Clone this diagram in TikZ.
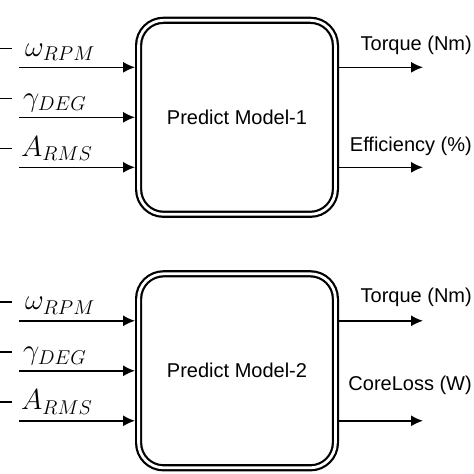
\RequirePackage{fix-cm}
\documentclass[tikz,border=0pt]{standalone}
\usepackage{fontspec}
\setmainfont{Liberation Sans}
\usepackage{tikz}
\usetikzlibrary{arrows.meta,positioning,calc}
\DeclareMathSizes{29}{29}{20}{14}

\begin{document}
\begin{tikzpicture}[x=1pt,y=-1pt,>={Latex[length=12pt,width=11pt]}]
\tikzset{model/.style={draw,double,line width=2.2pt,double distance=2.8pt,rounded corners=25pt,outer sep=3.6pt,minimum width=196.8pt,minimum height=194pt,font=\fontsize{20}{24}\selectfont},
  sig/.style={->,line width=1.4pt},
  inlab/.style={anchor=base west,inner sep=0pt,font=\fontsize{29}{35}\selectfont},
  outlab/.style={anchor=base east,inner sep=0pt,font=\fontsize{20}{24}\selectfont}}
\useasboundingbox (0,0) rectangle (474,474);
\node[model] (m1) at (237,117.3) {Predict Model-1};
\node[model] (m2) at (237,370.8) {Predict Model-2};
% inputs, same for both models
\foreach \m in {m1,m2}{
  \coordinate (\m-i1) at ($(\m.west)+(-116,-50)$);
  \coordinate (\m-i2) at ($(\m.west)+(-116,0)$);
  \coordinate (\m-i3) at ($(\m.west)+(-116,50)$);
  \draw[sig] (\m-i1) -- (\m-i1 -| \m.west);
  \draw[sig] (\m-i2) -- (\m-i2 -| \m.west);
  \draw[sig] (\m-i3) -- (\m-i3 -| \m.west);
  \node[inlab] (\m-w) at ($(\m-i1)+(6,-11)$) {$\omega_{RPM}$};
  \node[inlab] (\m-g) at ($(\m-i2)+(4,-11)$) {$\gamma_{DEG}$};
  \node[inlab] (\m-a) at ($(\m-i3)+(2,-11)$) {$A_{RMS}$};
  \draw[line width=1.4pt] ($(\m-i1)+(-19,-19)$) -- ++(12,0);
  \draw[line width=1.4pt] ($(\m-i2)+(-19,-19)$) -- ++(12,0);
  \draw[line width=1.4pt] ($(\m-i3)+(-19,-19)$) -- ++(12,0);
  % outputs
  \coordinate (\m-o1) at ($(\m.east)+(84,-50)$);
  \coordinate (\m-o2) at ($(\m.east)+(84,50)$);
  \draw[sig] (\m.east |- \m-o1) -- (\m-o1);
  \draw[sig] (\m.east |- \m-o2) -- (\m-o2);
}
\node[outlab] (tq1) at ($(m1-o1)+(49,-17)$) {Torque (Nm)};
\node[outlab] (eff) at ($(m1-o2)+(49,-16)$) {Efficiency (\%)};
\node[outlab] (tq2) at ($(m2-o1)+(49,-18)$) {Torque (Nm)};
\node[outlab] (cl) at ($(m2-o2)+(49,-30)$) {CoreLoss (W)};
\end{tikzpicture}
\end{document}
